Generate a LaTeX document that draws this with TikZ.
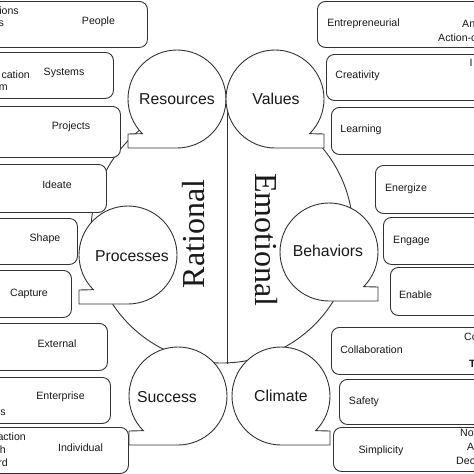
\documentclass[tikz,border=0pt]{standalone}
\usepackage{fontspec}
\setmainfont{Liberation Sans}
\newfontfamily\serifrm{Liberation Serif}
\begin{document}
\begin{tikzpicture}[x=1pt,y=-1pt,
  outl/.style={draw=black!80, line width=0.9pt, fill=white},
  box/.style={outl, rounded corners=8pt, inner sep=0pt, anchor=north west},
  lbl/.style={font=\fontsize{10.6}{12}\selectfont, inner sep=0pt, text=black!90},
  btxt/.style={font=\fontsize{15.8}{18}\selectfont, inner sep=0pt, text=black!90},
  bigtxt/.style={font=\serifrm\fontsize{32}{36}\selectfont, inner sep=0pt, text=black!90}
]
\useasboundingbox (0,0) rectangle (474,474);
\clip (0,0) rectangle (474,474);

% big circle and divider
\coordinate (bigc) at (222,232);
\draw[outl] (bigc) circle[radius=131];
\coordinate (divtop) at (227,99);
\coordinate (divbot) at (227,363.5);
\draw[draw=black!80, line width=0.9pt] (divtop) -- (divbot);

% speech bubbles: left tail
\newcommand\bubL[2]{\draw[outl] (#1,#2) ++(135:49) arc (135:450:49) -- ++(-49,0) -- ++(0,-14) -- cycle;}
\newcommand\bubR[2]{\draw[outl] (#1,#2) ++(45:49) arc (45:-270:49) -- ++(49,0) -- ++(0,-14) -- cycle;}
\bubL{177}{99}
\bubR{275}{99}
\bubL{128}{255}
\bubR{329}{252}
\bubL{178}{396}
\bubR{281}{396}

\node[btxt] (resources) at (177,99) {Resources};
\node[btxt] (values) at (276,99) {Values};
\node[btxt] (processes) at (132,256) {Processes};
\node[btxt] (behaviors) at (328,251) {Behaviors};
\node[btxt] (success) at (167,397) {Success};
\node[btxt] (climate) at (281,396) {Climate};

\node[bigtxt, rotate=90] (rational) at (194,234) {Rational};
\node[bigtxt, rotate=-90] (emotional) at (266,240) {Emotional};

% left boxes
\node[box, minimum width=187pt, minimum height=46pt] (bpeople) at (-40,1) {};
\node[box, minimum width=153pt, minimum height=46pt] (bsystems) at (-40,52) {};
\node[box, minimum width=160pt, minimum height=51pt] (bprojects) at (-40,106) {};
\node[box, minimum width=146pt, minimum height=48pt] (bideate) at (-40,164) {};
\node[box, minimum width=117pt, minimum height=46pt] (bshape) at (-40,218) {};
\node[box, minimum width=111pt, minimum height=47pt] (bcapture) at (-40,270) {};
\node[box, minimum width=147pt, minimum height=47pt] (bexternal) at (-40,323) {};
\node[box, minimum width=150pt, minimum height=46pt] (benterprise) at (-40,377) {};
\node[box, minimum width=168pt, minimum height=46pt] (bindividual) at (-40,427) {};

% right boxes
\node[box, minimum width=203pt, minimum height=46pt] (bentre) at (317,1) {};
\node[box, minimum width=194pt, minimum height=46pt] (bcreat) at (326,54) {};
\node[box, minimum width=189pt, minimum height=47pt] (blearn) at (331,107) {};
\node[box, minimum width=145pt, minimum height=48pt] (benerg) at (375,165) {};
\node[box, minimum width=137pt, minimum height=47pt] (bengage) at (383,217) {};
\node[box, minimum width=130pt, minimum height=48pt] (benable) at (390,267) {};
\node[box, minimum width=189pt, minimum height=47pt] (bcollab) at (331,327) {};
\node[box, minimum width=181pt, minimum height=45pt] (bsafety) at (339,379) {};
\node[box, minimum width=187pt, minimum height=44pt] (bsimpl) at (333,427) {};

% left labels
\node[lbl] (people) at (98.5,22) {People};
\node[lbl, anchor=east] (pa) at (19,11) {tions};
\node[lbl, anchor=east] (pb) at (4,24) {s};
\node[lbl] (systems) at (64,73) {Systems};
\node[lbl, anchor=east] (sa) at (30,75) {cation};
\node[lbl, anchor=east] (sb) at (8,88) {m};
\node[lbl] (projects) at (71,127) {Projects};
\node[lbl] (ideate) at (57,185) {Ideate};
\node[lbl] (shape) at (45,239) {Shape};
\node[lbl] (capture) at (29,294) {Capture};
\node[lbl] (external) at (57,344) {External};
\node[lbl] (enterprise) at (60.5,397) {Enterprise};
\node[lbl, anchor=east] (ea) at (6,413) {s};
\node[lbl] (individual) at (80.5,448) {Individual};
\node[lbl, anchor=east] (ia) at (26,437) {action};
\node[lbl, anchor=east] (ib) at (6,450) {h};
\node[lbl, anchor=east] (ic) at (8,463) {rd};

% right labels
\node[lbl] (entre) at (363.5,24) {Entrepreneurial};
\node[lbl, anchor=west] (ea1) at (462,24) {An};
\node[lbl, anchor=west] (ea2) at (438,38) {Action-o};
\node[lbl] (creat) at (357.5,76) {Creativity};
\node[lbl, anchor=west] (ca) at (469.5,63) {I};
\node[lbl] (learn) at (361,130) {Learning};
\node[lbl] (energ) at (406,189) {Energize};
\node[lbl] (engage) at (411.5,241) {Engage};
\node[lbl] (enable) at (415.5,295) {Enable};
\node[lbl] (collab) at (371.5,350) {Collaboration};
\node[lbl, anchor=west] (cob) at (464,337) {Co};
\node[lbl, anchor=west, font=\bfseries\fontsize{10.6}{12}\selectfont] (cot) at (469,364) {T};
\node[lbl] (safety) at (364,402) {Safety};
\node[lbl] (simpl) at (381,451) {Simplicity};
\node[lbl, anchor=west] (sn) at (460,433) {No};
\node[lbl, anchor=west] (sa2) at (467,447) {A};
\node[lbl, anchor=west] (sd) at (456,461) {Dec};
\end{tikzpicture}
\end{document}
